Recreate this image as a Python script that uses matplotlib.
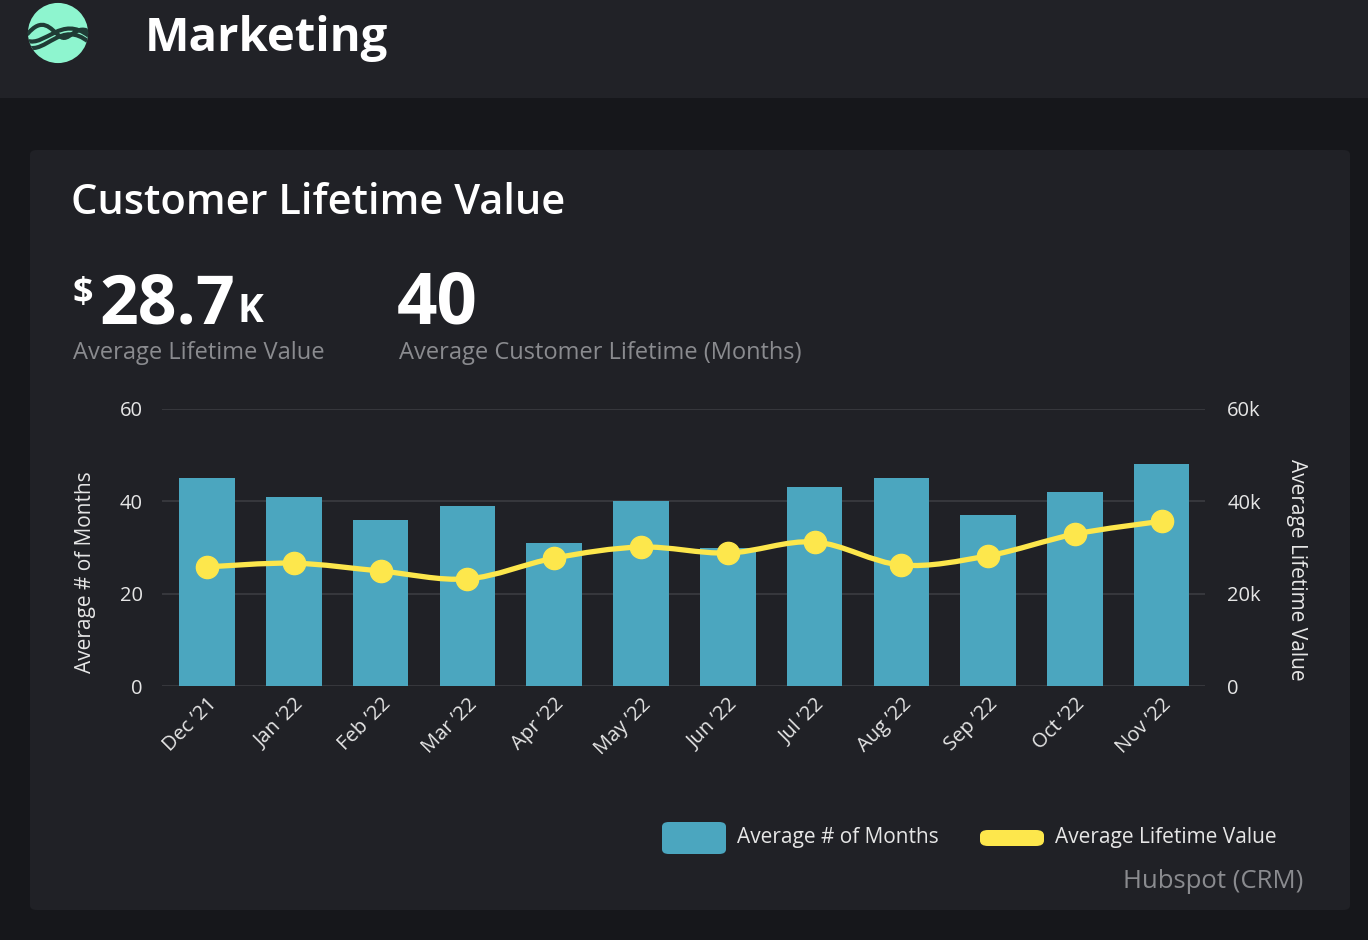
import matplotlib
matplotlib.use("Agg")
import matplotlib.pyplot as plt
from matplotlib.patches import FancyBboxPatch, Circle, Rectangle, PathPatch
from matplotlib.path import Path

months = ["Dec ’21", "Jan ’22", "Feb ’22", "Mar ’22", "Apr ’22", "May ’22",
          "Jun ’22", "Jul ’22", "Aug ’22", "Sep ’22", "Oct ’22", "Nov ’22"]
avg_months = [45, 41, 36, 39, 31, 40, 30, 43, 45, 37, 42, 48]
avg_ltv = [25.8, 26.6, 24.9, 23.2, 27.7, 30.1, 28.8, 31.2, 26.2, 28.2, 32.9, 35.7]
left_ticks = [0, 20, 40, 60]
right_ticks = [0, 20, 40, 60]
right_tick_labels = ["0", "20k", "40k", "60k"]

W, H = 1368, 940
BG_OUTER = "#16171b"
BG_CARD = "#202126"
BAR = "#4ba6bf"
YEL = "#fde74c"
GRID = "#36373c"
TXT = "#e6e6e6"
GRAY = "#8a8b8f"

plt.rcParams["font.family"] = ["Open Sans", "DejaVu Sans"]


def fx(x):
    return x / W


def fy(y):
    return 1 - y / H


fig = plt.figure(figsize=(W / 100, H / 100), dpi=100)
fig.patch.set_facecolor(BG_OUTER)

# header band and card, behind everything
fig.patches.append(Rectangle((0, fy(98)), 1, 98 / H, transform=fig.transFigure,
                             facecolor="#212227", edgecolor="none", zorder=-5))
fig.patches.append(FancyBboxPatch((fx(30), fy(910)), fx(1320), (910 - 150) / H,
                                  boxstyle="round,pad=0,rounding_size=0.005",
                                  transform=fig.transFigure, facecolor=BG_CARD,
                                  edgecolor="none", zorder=-5))

# logo
lax = fig.add_axes([fx(27), fy(64), fx(62), 62 / H])
lax.set_xlim(-1, 1)
lax.set_ylim(-1, 1)
lax.set_aspect("equal")
lax.axis("off")
circ = Circle((0, 0), 0.97, facecolor="#8ef5cf", edgecolor="none")
lax.add_patch(circ)
wave_a = [(-1.0, -0.05), (-0.5, 0.55), (-0.25, 0.15), (0.05, -0.1),
          (0.35, -0.35), (0.55, 0.3), (1.0, 0.05)]
wave_b = [(-1.0, -0.45), (-0.4, -0.7), (0.1, 0.45), (1.0, -0.3)]
wave_c = [(-1.0, -0.25), (-0.4, -0.45), (0.1, 0.6), (1.0, -0.1)]
for verts in (wave_a, wave_b, wave_c):
    codes = [Path.MOVETO] + [Path.CURVE4] * (len(verts) - 1)
    wp = PathPatch(Path(verts, codes), facecolor="none", edgecolor="#1f3b35", lw=3.0)
    wp.set_clip_path(circ)
    lax.add_patch(wp)

fig.text(fx(145), fy(39), "Marketing", color="white", fontsize=34, fontweight="bold",
         va="center", ha="left")
fig.text(fx(71), fy(203), "Customer Lifetime Value", color="white", fontsize=30,
         fontweight="semibold", va="center", ha="left")

# KPIs
renderer = fig.canvas.get_renderer()
dollar = fig.text(fx(73), fy(294), "$", color="white", fontsize=26, fontweight="bold",
                  va="center", ha="left")
db = dollar.get_window_extent(renderer)
num = fig.text(db.x1 / W + 0.004, fy(305), "28.7", color="white", fontsize=49,
               fontweight="bold", va="center")
bb = num.get_window_extent(renderer)
fig.text(bb.x1 / W + 0.002, fy(312), "K", color="white", fontsize=28, fontweight="bold",
         va="center")
fig.text(fx(73), fy(353), "Average Lifetime Value", color=GRAY, fontsize=17, va="center")
fig.text(fx(397), fy(305), "40", color="white", fontsize=51, fontweight="bold", va="center")
fig.text(fx(399), fy(353), "Average Customer Lifetime (Months)", color=GRAY, fontsize=17,
         va="center")

# chart
ax = fig.add_axes([fx(162), fy(686), fx(1205 - 162), (686 - 409) / H])
ax.set_facecolor("none")
x = list(range(len(months)))
ax.bar(x, avg_months, width=0.64, color=BAR, zorder=2)
ax.set_xlim(-0.52, 11.5)
ax.set_ylim(0, 60)
ax.set_yticks(left_ticks)
ax.grid(axis="y", color=GRID, lw=1.5, zorder=0)
ax.set_axisbelow(True)
for s in ax.spines.values():
    s.set_visible(False)
ax.tick_params(axis="both", length=0, colors=TXT, labelsize=14.5)
ax.tick_params(axis="y", pad=14)
ax.set_xticks(x)
ax.set_xticklabels(months, rotation=45, ha="right", rotation_mode="anchor")
ax.tick_params(axis="x", pad=6)
ax.set_ylabel("Average # of Months", color=TXT, fontsize=15)
ax.yaxis.set_label_coords(-0.063, 0.41)

ax2 = ax.twinx()
ax2.set_ylim(0, 60)
ax2.set_yticks(right_ticks)
ax2.set_yticklabels(right_tick_labels)
for s in ax2.spines.values():
    s.set_visible(False)
ax2.tick_params(axis="y", length=0, colors=TXT, labelsize=14.5, pad=16)
ax2.set_ylabel("Average Lifetime Value", color=TXT, fontsize=15, rotation=-90,
               va="center")
ax2.yaxis.set_label_coords(1.088, 0.42)

# smooth curve through the points (Catmull-Rom as cubic Bezier)
pts = list(zip(x, avg_ltv))
verts = [pts[0]]
codes = [Path.MOVETO]
n = len(pts)
for i in range(n - 1):
    p0 = pts[max(i - 1, 0)]
    p1 = pts[i]
    p2 = pts[i + 1]
    p3 = pts[min(i + 2, n - 1)]
    c1 = (p1[0] + (p2[0] - p0[0]) / 6, p1[1] + (p2[1] - p0[1]) / 6)
    c2 = (p2[0] - (p3[0] - p1[0]) / 6, p2[1] - (p3[1] - p1[1]) / 6)
    verts += [c1, c2, p2]
    codes += [Path.CURVE4] * 3
ax2.add_patch(PathPatch(Path(verts, codes), facecolor="none", edgecolor=YEL, lw=3.8,
                        zorder=3, capstyle="round"))
ax2.plot(x, avg_ltv, linestyle="none", marker="o", markersize=16, color=YEL, zorder=4)

# legend
fig.patches.append(FancyBboxPatch((fx(662), fy(854)), fx(64), 32 / H,
                                  boxstyle="round,pad=0,rounding_size=0.005",
                                  transform=fig.transFigure, facecolor=BAR, edgecolor="none"))
fig.patches.append(FancyBboxPatch((fx(980), fy(846)), fx(64), 16 / H,
                                  boxstyle="round,pad=0,rounding_size=0.0058",
                                  transform=fig.transFigure, facecolor=YEL, edgecolor="none"))
fig.text(fx(737), fy(838), "Average # of Months", color=TXT, fontsize=15, va="center")
fig.text(fx(1055), fy(838), "Average Lifetime Value", color=TXT, fontsize=15, va="center")
fig.text(fx(1303), fy(882), "Hubspot (CRM)", color=GRAY, fontsize=18.5, va="center",
         ha="right")

fig.savefig("out.png", dpi=100, facecolor=fig.get_facecolor())
